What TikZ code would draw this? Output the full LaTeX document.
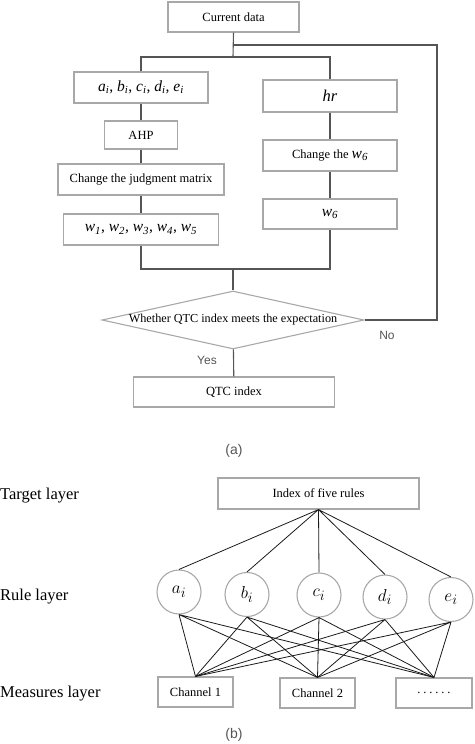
\documentclass[tikz,border=0pt]{standalone}
\usepackage{fontspec}
\setmainfont{Liberation Serif}
\setsansfont{Liberation Sans}
\usepackage{tikz}
\usetikzlibrary{shapes.geometric}
\definecolor{frame}{HTML}{A8A8A8}
\definecolor{link}{HTML}{555555}
\definecolor{edge}{HTML}{1A1A1A}
\newcommand{\ivar}[2]{\textit{#1}\textsubscript{\textit{#2}}}
\newcommand{\sixdots}{.\hspace{2.9pt}.\hspace{2.9pt}.\hspace{2.9pt}.\hspace{2.9pt}.\hspace{2.9pt}.}
\tikzset{
  box/.style={draw=frame, line width=1.1pt, inner sep=0pt, font=\fontsize{12.5}{15}\selectfont},
  vbox/.style={box, font=\fontsize{15.5}{18}\selectfont},
  decide/.style={draw=frame, line width=1.1pt, diamond, aspect=4.5, inner sep=0pt, font=\fontsize{12.2}{14}\selectfont},
  rule/.style={circle, draw=frame, line width=1.1pt, minimum size=44, inner sep=0pt, font=\fontsize{19}{22}\selectfont},
  line/.style={draw=link, line width=1.1pt},
  nline/.style={draw=edge, line width=0.8pt},
  lbl/.style={text=link, font=\sffamily\fontsize{12}{14}\selectfont},
  subcap/.style={text=link, font=\sffamily\fontsize{14}{16}\selectfont},
  layer/.style={anchor=west, inner sep=0pt, font=\fontsize{16.5}{19}\selectfont}
}

\begin{document}
\begin{tikzpicture}[x=1pt, y=-1pt]
  \useasboundingbox (0,0) rectangle (474,744);

  % (a) flow chart
  \node[box, minimum width=131, minimum height=30] (cur) at (233.5,17) {Current data};
  \node[vbox, minimum width=134, minimum height=31] (abc) at (141,87.5)
    {\ivar{a}{i}, \ivar{b}{i}, \ivar{c}{i}, \ivar{d}{i}, \ivar{e}{i}};
  \node[box, minimum width=73, minimum height=28] (ahp) at (141,135) {AHP};
  \node[box, minimum width=166, minimum height=31] (cjm) at (141,179.5) {Change the judgment matrix};
  \node[vbox, minimum width=155, minimum height=31] (w15) at (141,229.5)
    {\ivar{w}{1}, \ivar{w}{2}, \ivar{w}{3}, \ivar{w}{4}, \ivar{w}{5}};
  \node[vbox, minimum width=134, minimum height=32, font=\fontsize{16.5}{19}\selectfont] (hr) at (330,96) {\textit{hr}};
  \node[box, minimum width=134, minimum height=31] (chw) at (330,155.5)
    {Change the {\fontsize{15.5}{18}\selectfont\ivar{w}{6}}};
  \node[vbox, minimum width=134, minimum height=30] (w6) at (330,214) {\ivar{w}{6}};
  \node[decide, minimum width=262, minimum height=58] (dec) at (233,320)
    {Whether QTC index meets the expectation};
  \node[box, minimum width=201, minimum height=30] (qtc) at (234,392) {QTC index};

  \coordinate (back) at (233,45);
  \coordinate (rgt) at (437,45);
  \coordinate (split) at (233,57);
  \coordinate (merge) at (233,269);

  \draw[line] (cur.south) -- (split);
  \draw[line] (abc.north) |- (split) -| (hr.north);
  \draw[line] (abc) -- (ahp) -- (cjm) -- (w15);
  \draw[line] (hr) -- (chw) -- (w6);
  \draw[line] (w15.south) |- (merge) -| (w6.south);
  \draw[line] (merge) -- (dec.north);
  \draw[line] (dec.east) -| (rgt) -- (back);
  \draw[line] (dec) -- (qtc);

  \node[lbl] (yes) at (207,360) {Yes};
  \node[lbl] (no) at (387,335) {No};
  \node[subcap] (capa) at (234,451) {(a)};

  % (b) hierarchy
  \node[layer] (tgt) at (0,496) {Target layer};
  \node[layer] (rul) at (0,597) {Rule layer};
  \node[layer] (mea) at (0,694) {Measures layer};

  \node[box, minimum width=201, minimum height=31] (idx) at (318.5,493.5) {Index of five rules};
  \node[rule] (ra) at (179,592) {$a_i$};
  \node[rule] (rb) at (247,594.5) {$b_i$};
  \node[rule] (rc) at (319,595) {$c_i$};
  \node[rule] (rd) at (385,597) {$d_i$};
  \node[rule] (re) at (451,599.5) {$e_i$};
  \node[box, minimum width=75, minimum height=30] (m1) at (195.5,692) {Channel 1};
  \node[box, minimum width=75, minimum height=30] (m2) at (317.5,693) {Channel 2};
  \node[box, minimum width=76, minimum height=30] (m3) at (434,693) {\sixdots};

  \draw[nline] (idx.south) -- (ra.north) (idx.south) -- (rb.north) (idx.south) -- (rc.north)
    (idx.south) -- (rd.north) (idx.south) -- (re.north);
  \draw[nline] (ra.south) -- (m1.north) (ra.south) -- (m2.north) (ra.south) -- (m3.north);
  \draw[nline] (rb.south) -- (m1.north) (rb.south) -- (m2.north) (rb.south) -- (m3.north);
  \draw[nline] (rc.south) -- (m1.north) (rc.south) -- (m2.north) (rc.south) -- (m3.north);
  \draw[nline] (rd.south) -- (m1.north) (rd.south) -- (m2.north) (rd.south) -- (m3.north);
  \draw[nline] (re.south) -- (m1.north) (re.south) -- (m2.north) (re.south) -- (m3.north);

  \node[subcap] (capb) at (234,735) {(b)};
\end{tikzpicture}
\end{document}
